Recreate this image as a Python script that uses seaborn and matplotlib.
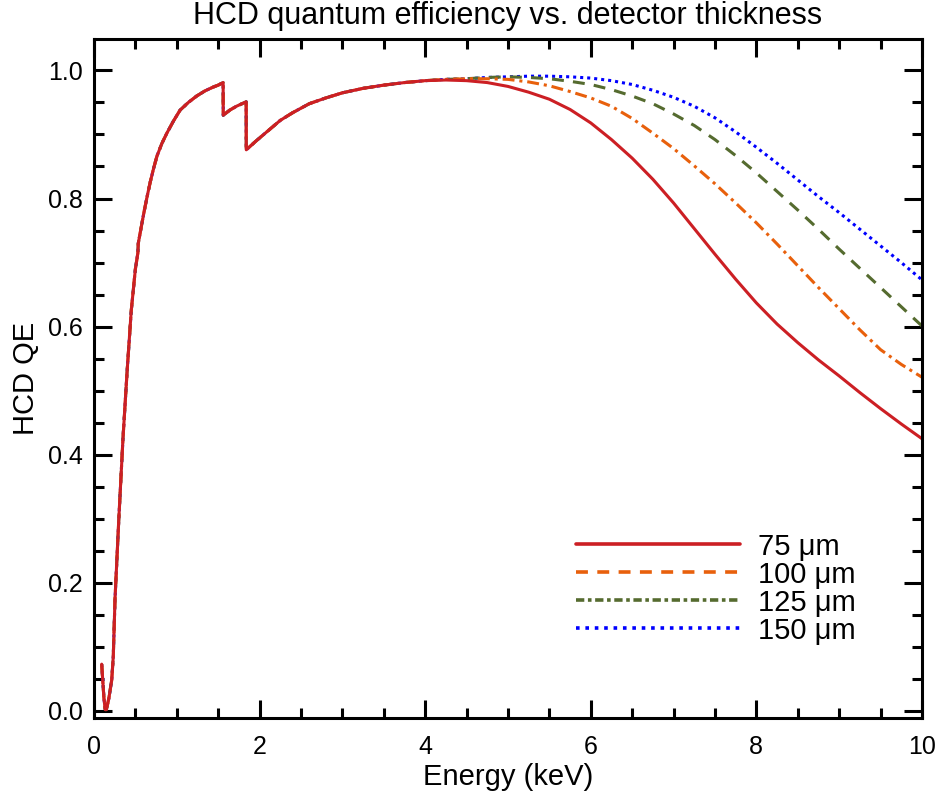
import numpy as np
import pandas as pd
import matplotlib
matplotlib.use("Agg")
import matplotlib.pyplot as plt
from matplotlib.lines import Line2D
from matplotlib.ticker import MultipleLocator
import seaborn as sns

# ---------------- data ----------------
# shared low-energy part (all thicknesses identical here)
energy_common = [0.093, 0.12, 0.135, 0.15, 0.18, 0.214, 0.233, 0.254, 0.30, 0.35,
                 0.40, 0.45, 0.50, 0.53, 0.535, 0.57, 0.60, 0.64, 0.68, 0.72,
                 0.76, 0.82, 0.88, 0.96, 1.04, 1.14, 1.24, 1.34, 1.44, 1.50,
                 1.56, 1.561, 1.64, 1.72, 1.838, 1.839, 1.95, 2.05, 2.15, 2.25,
                 2.40, 2.60, 2.80, 3.00, 3.25, 3.50, 3.75, 4.00]
qe_common = [0.073, 0.020, 0.002, 0.002, 0.020, 0.048, 0.085, 0.175, 0.300, 0.425,
             0.530, 0.625, 0.690, 0.715, 0.730, 0.755, 0.776, 0.802, 0.826, 0.847,
             0.866, 0.886, 0.902, 0.921, 0.938, 0.950, 0.960, 0.968, 0.974, 0.977,
             0.981, 0.930, 0.938, 0.944, 0.951, 0.876, 0.889, 0.900, 0.911, 0.922,
             0.934, 0.948, 0.957, 0.965, 0.972, 0.977, 0.981, 0.984]

energy_high = [4.25, 4.5, 4.75, 5.0, 5.25, 5.5, 5.75, 6.0, 6.25, 6.5, 6.75, 7.0,
               7.25, 7.5, 7.75, 8.0, 8.25, 8.5, 8.75, 9.0, 9.25, 9.5, 9.75, 10.0]
qe_75um = [0.985, 0.984, 0.981, 0.975, 0.966, 0.955, 0.939, 0.918, 0.892, 0.863, 0.830, 0.793,
           0.753, 0.713, 0.674, 0.637, 0.604, 0.575, 0.548, 0.523, 0.497, 0.472, 0.448, 0.425]
qe_100um = [0.986, 0.987, 0.987, 0.986, 0.982, 0.976, 0.967, 0.957, 0.944, 0.925, 0.902, 0.878,
            0.851, 0.823, 0.793, 0.762, 0.729, 0.695, 0.661, 0.628, 0.595, 0.564, 0.541, 0.521]
qe_125um = [0.986, 0.987, 0.989, 0.990, 0.989, 0.987, 0.983, 0.978, 0.970, 0.960, 0.948, 0.932,
            0.914, 0.892, 0.867, 0.840, 0.811, 0.782, 0.752, 0.721, 0.691, 0.661, 0.631, 0.601]
qe_150um = [0.986, 0.987, 0.989, 0.990, 0.991, 0.991, 0.990, 0.988, 0.984, 0.978, 0.969, 0.958,
            0.944, 0.926, 0.904, 0.880, 0.855, 0.829, 0.803, 0.778, 0.752, 0.726, 0.700, 0.673]

thickness_labels = ["75 μm", "100 μm", "125 μm", "150 μm"]
colors = ["#CC1F24", "#E8600C", "#556B2F", "#0000FF"]

title = "HCD quantum efficiency vs. detector thickness"
xlabel = "Energy (keV)"
ylabel = "HCD QE"
xticks = [0, 2, 4, 6, 8, 10]
yticks = [0.0, 0.2, 0.4, 0.6, 0.8, 1.0]

# ---------------- build long-form table ----------------
rows = []
for lab, qe_hi in zip(thickness_labels, [qe_75um, qe_100um, qe_125um, qe_150um]):
    e = list(energy_common) + list(energy_high)
    q = list(qe_common) + list(qe_hi)
    for ei, qi in zip(e, q):
        rows.append({"energy": ei, "qe": qi, "thickness": lab})
df = pd.DataFrame(rows)

# ---------------- style ----------------
sns.set_theme(style="white")
plt.rcParams["font.family"] = ["Liberation Sans", "DejaVu Sans"]
for k in ["text.color", "axes.labelcolor", "xtick.color", "ytick.color", "axes.edgecolor"]:
    plt.rcParams[k] = "black"

FS_TICK = 18
FS_TEXT = 21
FS_TITLE = 22
LW = 2.2

fig = plt.figure(figsize=(9.38, 7.98), dpi=100)
ax = fig.add_axes([0.1002, 0.1003, 0.8827, 0.8508])

palette = dict(zip(thickness_labels, colors))
# line styles in the plot (in units of line width)
plot_dashes = {
    "75 μm": "",
    "100 μm": (3.9, 1.6, 1.0, 1.6),   # dash-dot
    "125 μm": (3.9, 3.0),             # dashed
    "150 μm": (1.0, 1.3),             # dotted
}

sns.lineplot(data=df, x="energy", y="qe", hue="thickness", style="thickness",
             hue_order=thickness_labels[::-1], style_order=thickness_labels[::-1],
             palette=palette, dashes=plot_dashes, estimator=None, sort=False,
             linewidth=LW, legend=False, ax=ax)

ax.set_xlim(0, 10)
ax.set_ylim(-0.011, 1.049)
ax.set_xticks(xticks)
ax.set_xticklabels([str(t) for t in xticks])
ax.set_yticks(yticks)
ax.set_yticklabels([f"{t:.1f}" for t in yticks])
ax.xaxis.set_minor_locator(MultipleLocator(0.5))
ax.yaxis.set_minor_locator(MultipleLocator(0.05))

ax.tick_params(which="both", direction="in", top=True, right=True,
               bottom=True, left=True, color="black", width=2.2)
ax.tick_params(which="major", length=13)
ax.tick_params(which="minor", length=7.5)
ax.tick_params(axis="x", which="major", pad=12, labelsize=FS_TICK)
ax.tick_params(axis="y", which="major", pad=8, labelsize=FS_TICK)

for s in ax.spines.values():
    s.set_visible(True)
    s.set_color("black")
    s.set_linewidth(2.2)

ax.set_title(title, fontsize=FS_TITLE, pad=11)
ax.set_xlabel(xlabel, fontsize=FS_TEXT, labelpad=3)
ax.set_ylabel(ylabel, fontsize=FS_TEXT, labelpad=6)

# legend (its line styles differ from the plotted ones, as in the reference)
legend_dashes = [None, (3.3, 2.6), (2.3, 1.0, 1.0, 1.0), (1.0, 1.6)]
handles = []
for lab, col, dsh in zip(thickness_labels, colors, legend_dashes):
    h = Line2D([], [], color=col, linewidth=LW + 0.4)
    if dsh is not None:
        h.set_dashes(dsh)
    handles.append(h)
ax.legend(handles, thickness_labels, loc="upper left",
          bbox_to_anchor=(0.582, 0.273), frameon=False, fontsize=FS_TEXT,
          handlelength=5.62, handletextpad=0.62, labelspacing=0.0,
          borderpad=0, borderaxespad=0)

fig.savefig("out.png", dpi=100)
